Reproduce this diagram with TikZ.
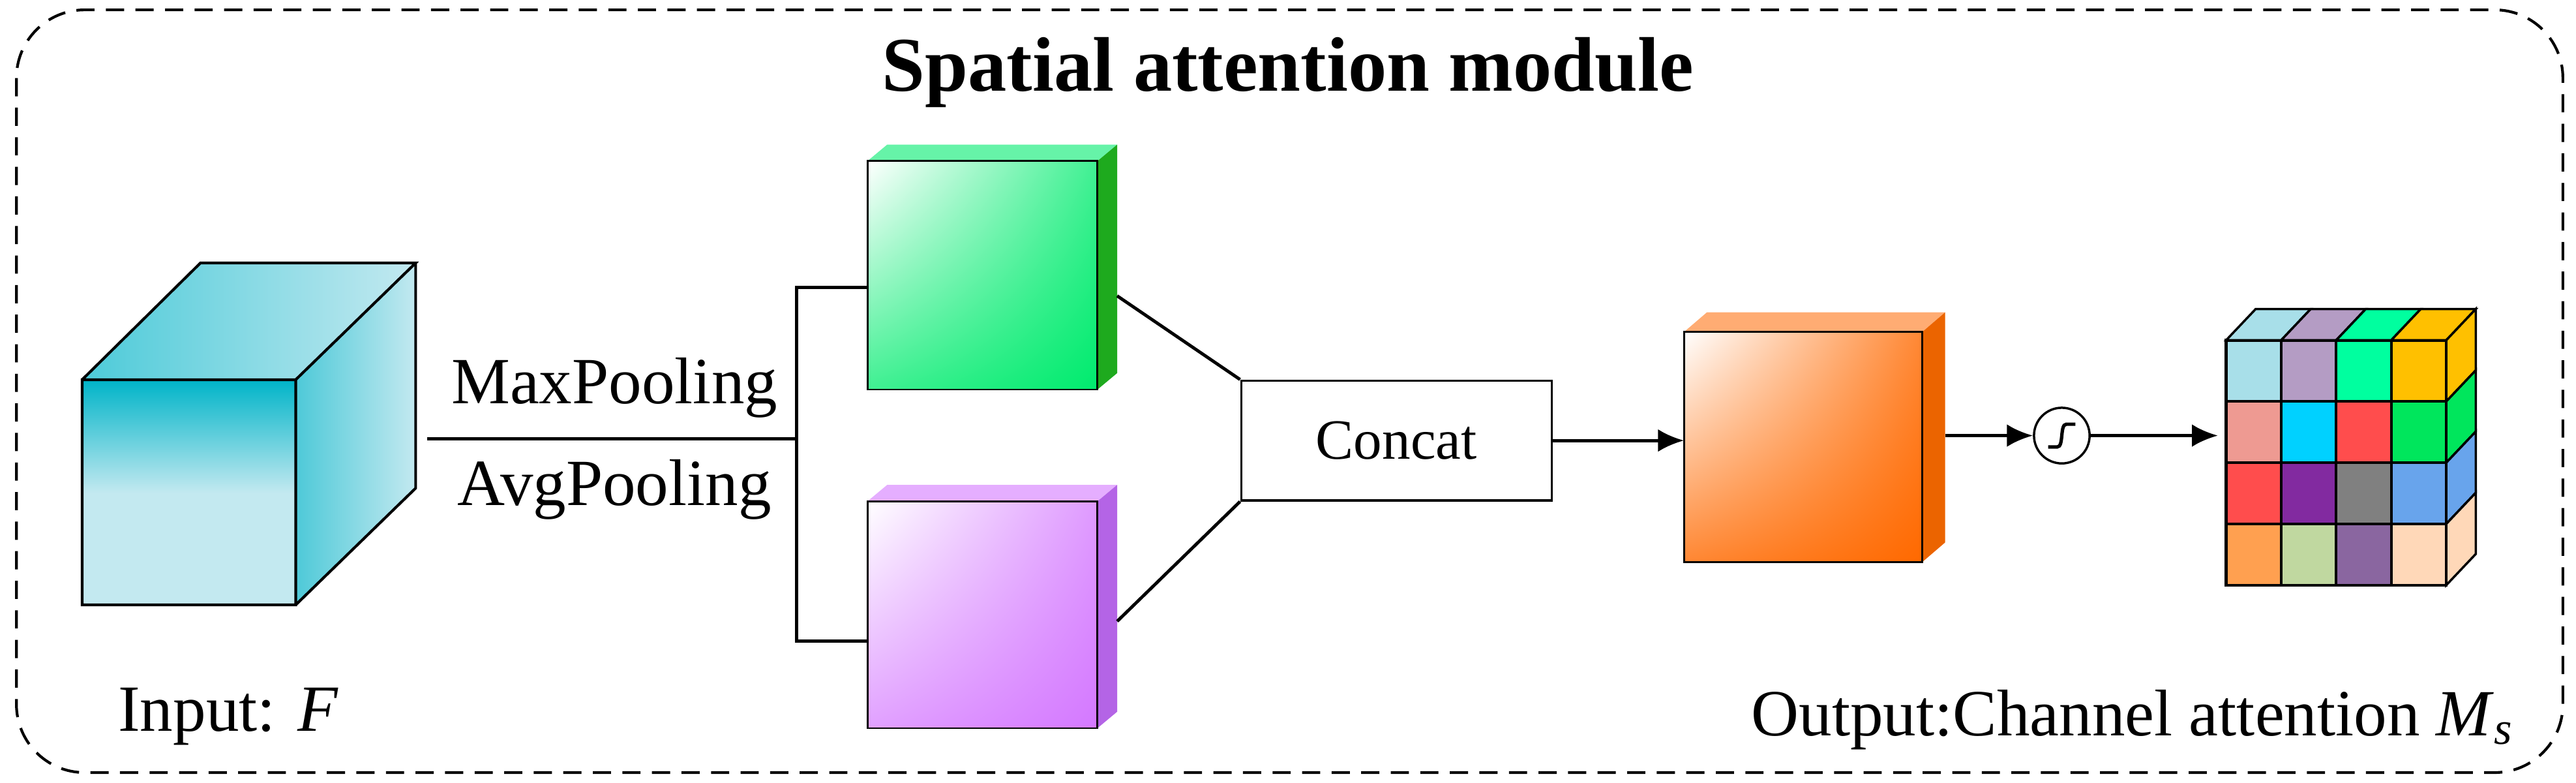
\documentclass[tikz,border=0pt]{standalone}
\usepackage{fontspec}
\setmainfont{Liberation Serif}
\usetikzlibrary{arrows.meta,shadings}
\begin{document}
\begin{tikzpicture}[x=0.254mm,y=-0.254mm,
  lbl/.style={font=\fontsize{29}{32}\selectfont,inner sep=0pt},
  ln/.style={line width=1.4pt},
  arr/.style={line width=1.4pt,-{Latex[length=4mm,width=3.5mm]}}]
\useasboundingbox (0,0) rectangle (1568,476);
\draw[line width=1.2pt,rounded corners=30,dash pattern=on 8pt off 5pt] (10,6) rectangle (1560,470);
\node[font=\bfseries\fontsize{34}{38}\selectfont] (title) at (784,44) {Spatial attention module};
% input cube
\definecolor{tealA}{RGB}{0,180,200}\definecolor{tealB}{RGB}{195,233,240}
\fill[tealB] (50,231) rectangle (180,368);
\shade[top color=tealA,bottom color=tealB] (50,231) rectangle (180,300);
\shade[left color=tealA!70,right color=tealB] (122,160)--(253,160)--(180,231)--(50,231)--cycle;
\shade[left color=tealB!40!tealA,right color=tealB] (180,231)--(253,160)--(253,297)--(180,368)--cycle;
\draw[line width=1.2pt] (50,231) rectangle (180,368) (50,231)--(122,160)--(253,160)--(180,231) (253,160)--(253,297)--(180,368);
\node[lbl] (inlbl) at (139,436) {Input: \textit{F}};
% pooling line
\coordinate (br) at (485,267);
\draw[ln] (260,267) -- (br);
\node[lbl] (mp) at (374,236) {MaxPooling};
\node[lbl] (ap) at (374,298) {AvgPooling};
% green cube
\definecolor{gr}{RGB}{0,235,110}\definecolor{grd}{RGB}{30,170,30}
\shade[upper left=white,lower right=gr,upper right=gr!75,lower left=gr!75] (528,98) rectangle (668,237);
\fill[gr!60!white] (528,98)--(540,88)--(680,88)--(668,98)--cycle;
\fill[grd] (668,98)--(680,88)--(680,227)--(668,237)--cycle;
\draw[line width=0.8pt] (528,98) rectangle (668,237);
% purple cube
\definecolor{pu}{RGB}{212,120,255}\definecolor{pud}{RGB}{180,100,230}
\shade[upper left=white,lower right=pu,upper right=pu!75,lower left=pu!70] (528,305) rectangle (668,443);
\fill[pu!60!white] (528,305)--(540,295)--(680,295)--(668,305)--cycle;
\fill[pud] (668,305)--(680,295)--(680,433)--(668,443)--cycle;
\draw[line width=0.8pt] (528,305) rectangle (668,443);
\coordinate (gL) at (528,175); \coordinate (pL) at (528,390);
\draw[ln] (gL) -| (br) |- (pL);
% concat
\node[draw,line width=1pt,inner sep=0pt,font=\fontsize{25}{28}\selectfont,minimum width=48mm,minimum height=18.5mm] (concat) at (850,268) {Concat};
\coordinate (gR) at (680,180); \coordinate (pR) at (680,378);
\draw[ln] (gR) -- (concat.north west);
\draw[ln] (pR) -- (concat.south west);
% orange cube
\definecolor{or}{RGB}{255,105,0}\definecolor{ord}{RGB}{235,100,0}
\shade[upper left=white,lower right=or,upper right=or!80,lower left=or!80] (1025,202) rectangle (1170,342);
\fill[or!55!white] (1025,202)--(1039,190)--(1184,190)--(1170,202)--cycle;
\fill[ord] (1170,202)--(1184,190)--(1184,330)--(1170,342)--cycle;
\draw[line width=0.8pt] (1025,202) rectangle (1170,342);
\coordinate (oL) at (1025,268); \coordinate (oR) at (1184,265);
\draw[arr] (concat.east) -- (oL);
% sigmoid
\node[draw,circle,line width=1pt,minimum size=8.6mm,inner sep=0pt] (sig) at (1255,265) {};
\draw[line width=1.5pt] ([xshift=-6pt,yshift=-5pt]sig.center) -- ([xshift=-2pt,yshift=-5pt]sig.center) .. controls ([xshift=1pt,yshift=-5pt]sig.center) and ([xshift=-1pt,yshift=5pt]sig.center) .. ([xshift=2pt,yshift=5pt]sig.center) -- ([xshift=6pt,yshift=5pt]sig.center);
\draw[arr] (oR) -- (sig.west);
\coordinate (gridL) at (1350,265);
\draw[arr] (sig.east) -- (gridL);
% grid cube
\definecolor{c11}{HTML}{A8DFE9}\definecolor{c12}{HTML}{B49CC4}\definecolor{c13}{HTML}{00FF9F}\definecolor{c14}{HTML}{FFC000}
\definecolor{c21}{HTML}{EE9A92}\definecolor{c22}{HTML}{00D1FF}\definecolor{c23}{HTML}{FF4D4D}\definecolor{c24}{HTML}{00E65C}
\definecolor{c31}{HTML}{FF4D4D}\definecolor{c32}{HTML}{822AA0}\definecolor{c33}{HTML}{808080}\definecolor{c34}{HTML}{68A4EC}
\definecolor{c41}{HTML}{FFA050}\definecolor{c42}{HTML}{C0D8A0}\definecolor{c43}{HTML}{8A66A0}\definecolor{c44}{HTML}{FFD8B8}
\foreach \r in {1,...,4}{\foreach \c in {1,...,4}{
  \pgfmathsetmacro\xa{1355+(\c-1)*33.5}\pgfmathsetmacro\ya{207+(\r-1)*37.25}
  \filldraw[fill=c\r\c,line width=1.2pt] (\xa,\ya) rectangle ++(33.5,37.25);}}
\foreach \c in {1,...,4}{
  \pgfmathsetmacro\xa{1355+(\c-1)*33.5}
  \filldraw[fill=c1\c,line width=1pt] (\xa,207)--++(18,-19)--++(33.5,0)--++(-18,19)--cycle;}
\foreach \r in {1,...,4}{
  \pgfmathsetmacro\ya{207+(\r-1)*37.25}
  \filldraw[fill=c\r4,line width=1pt] (1489,\ya)--++(18,-19)--++(0,37.25)--++(-18,19)--cycle;}
\node[lbl] (outlbl) at (1298,438) {Output:Channel attention \textit{M}\textsubscript{\textit{s}}};
\end{tikzpicture}
\end{document}
